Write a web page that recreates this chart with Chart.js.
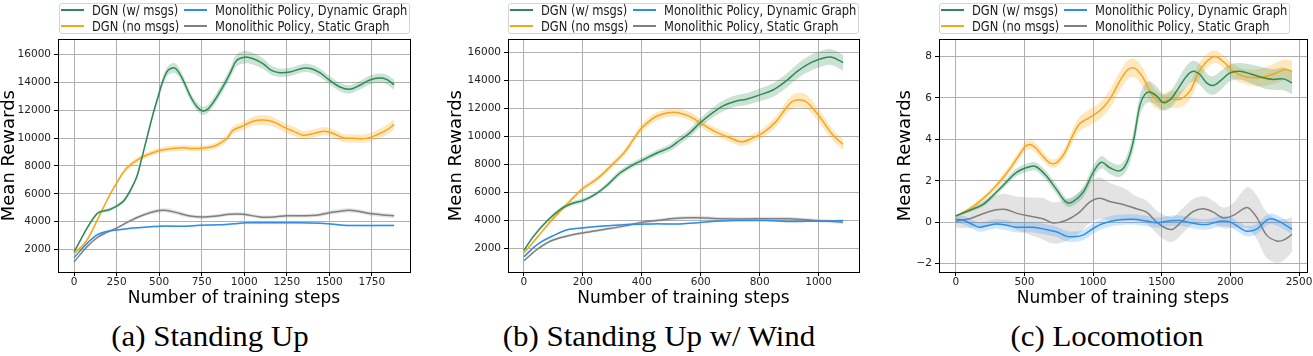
<!DOCTYPE html>
<html>
<head>
<title>DGN rewards</title>
<script src="https://cdn.jsdelivr.net/npm/chart.js"></script>
<style>
  body {
    margin: 0;
    width: 1313px;
    height: 356px;
    background: #fff;
    position: relative;
    overflow: hidden;
    font-family: 'DejaVu Sans', sans-serif;
  }
  .panel { position: absolute; top: 30px; height: 282px; }
  .legend {
    position: absolute;
    top: 3px;
    width: 349px;
    height: 29px;
    border: 1px solid #d4d4d4;
    border-radius: 3px;
    background: #fff;
  }
  .legend .sw { position: absolute; width: 23px; height: 2px; }
  .legend .lbl {
    position: absolute;
    font-size: 14px;
    line-height: 14px;
    transform: scaleX(0.82);
    transform-origin: left center;
    white-space: nowrap;
    color: #1a1a1a;
  }
  .caption {
    position: absolute;
    top: 321px;
    width: 400px;
    text-align: center;
    font-family: 'Liberation Serif', serif;
    font-size: 30px;
    line-height: 30px;
    color: #000;
    transform: scaleX(1.03);
    white-space: nowrap;
  }
</style>
</head>
<body>
<div class="panel" id="pa" style="left:0px;width:420px"><canvas id="ca"></canvas></div>
<div class="panel" id="pb" style="left:445px;width:424px"><canvas id="cb"></canvas></div>
<div class="panel" id="pc" style="left:894px;width:419px"><canvas id="cc"></canvas></div>

<script>
// series names and colours
const seriesNames = ['DGN (w/ msgs)', 'DGN (no msgs)', 'Monolithic Policy, Dynamic Graph', 'Monolithic Policy, Static Graph'];
const lineColors = ['#2e8b57', '#f7a61c', '#2f8ee8', '#808080'];
const fillColors = ['rgba(46,139,87,0.25)', 'rgba(255,165,0,0.25)', 'rgba(30,144,255,0.22)', 'rgba(128,128,128,0.22)'];

// [step, mean reward, half band width]

// (a) Standing Up
const standGreen = [[0,1850,60],[133,4550,120],[211,4880,120],[250,5120,120],[290,5470,150],[329,6200,170],[368,7200,180],[397,8500,200],[427,9950,200],[466,11800,230],[495,13000,260],[520,14020,300],[553,14860,330],[593,15020,350],[632,14380,330],[681,13070,300],[720,12290,300],[759,11950,300],[798,12240,300],[857,13310,330],[916,14620,380],[955,15570,420],[1004,15810,450],[1053,15690,420],[1112,15330,380],[1160,14860,330],[1209,14690,300],[1268,14740,300],[1346,15020,300],[1395,14980,300],[1444,14690,300],[1503,14140,300],[1562,13670,300],[1620,13500,300],[1679,13790,300],[1738,14170,320],[1796,14310,330],[1836,14210,340],[1881,13830,380]];
const standOrange = [[0,1700,60],[74,2640,80],[153,4530,100],[211,5950,120],[250,6770,150],[309,7830,180],[387,8540,200],[466,8970,200],[544,9200,200],[642,9300,200],[700,9250,200],[779,9300,200],[837,9490,220],[896,9950,250],[935,10570,280],[994,10880,300],[1053,11210,330],[1112,11290,350],[1170,11170,350],[1229,10810,330],[1288,10500,330],[1346,10210,300],[1405,10330,300],[1474,10500,300],[1523,10330,300],[1581,10020,300],[1640,9980,300],[1718,9980,300],[1777,10220,320],[1836,10570,350],[1881,10980,400]];
const standBlue = [[0,1420,50],[74,2410,60],[133,3040,60],[192,3300,60],[250,3400,60],[348,3540,60],[446,3630,60],[505,3680,60],[662,3680,60],[740,3750,60],[857,3780,60],[935,3850,60],[1014,3920,60],[1327,3920,60],[1444,3890,60],[1523,3820,60],[1601,3730,60],[1881,3730,60]];
const standGray = [[0,1110,60],[74,2170,80],[133,2830,100],[192,3230,100],[250,3540,100],[329,4060,120],[407,4480,130],[485,4770,150],[544,4810,150],[603,4650,150],[681,4410,130],[759,4340,130],[837,4410,130],[916,4530,130],[994,4530,130],[1092,4340,130],[1170,4340,130],[1249,4430,130],[1327,4430,130],[1425,4460,130],[1503,4650,150],[1601,4810,150],[1659,4770,150],[1738,4580,150],[1816,4480,150],[1881,4430,150]];

// (b) Standing Up w/ Wind
const windGreen = [[0,1880,60],[35,2940,100],[80,4000,120],[125,4820,150],[159,5180,150],[204,5460,150],[243,5880,150],[282,6520,180],[327,7410,200],[372,8000,200],[406,8350,200],[451,8820,220],[496,9220,250],[530,9750,280],[563,10260,300],[597,10960,320],[631,11550,350],[676,12190,380],[721,12540,400],[755,12660,420],[800,12970,450],[845,13320,480],[889,13950,500],[923,14570,520],[957,15080,550],[1002,15510,560],[1042,15670,560],[1083,15270,550]];
const windOrange = [[0,1690,60],[46,2820,100],[91,3950,120],[136,4940,150],[170,5690,150],[204,6350,180],[249,6990,180],[294,7880,200],[339,8820,220],[367,9650,250],[395,10500,280],[440,11320,300],[485,11670,300],[519,11720,300],[563,11440,300],[608,10850,300],[653,10310,300],[698,9910,300],[740,9620,300],[777,9900,300],[811,10260,330],[856,11080,380],[889,12020,450],[917,12560,500],[957,12490,500],[1002,11440,450],[1047,10140,400],[1083,9440,380]];
const windBlue = [[0,1410,50],[46,2300,60],[102,2940,60],[147,3340,60],[204,3480,60],[282,3620,60],[350,3720,60],[440,3760,60],[530,3760,60],[597,3860,60],[653,3950,60],[732,4000,60],[822,4000,60],[901,3930,60],[980,3950,60],[1083,4000,60]];
const windGray = [[0,1130,60],[46,1950,80],[91,2540,100],[147,2890,100],[204,3130,100],[271,3360,100],[339,3600,100],[395,3850,120],[451,4000,120],[507,4140,130],[563,4200,130],[620,4180,130],[676,4120,130],[788,4120,130],[901,4120,130],[991,4000,130],[1083,3880,130]];

// (c) Locomotion
const locoGreen = [[0,0.30,0.05],[100,0.57,0.08],[197,0.85,0.1],[246,1.13,0.12],[343,1.76,0.15],[440,2.40,0.18],[538,2.68,0.2],[586,2.68,0.2],[659,2.24,0.22],[732,1.60,0.22],[805,0.97,0.2],[854,1.00,0.2],[927,1.44,0.25],[1000,2.40,0.3],[1061,2.90,0.3],[1122,2.63,0.3],[1194,2.48,0.3],[1243,2.84,0.35],[1292,3.87,0.45],[1340,5.62,0.5],[1377,6.17,0.5],[1413,6.29,0.5],[1462,6.10,0.45],[1511,5.78,0.4],[1559,5.90,0.4],[1608,6.33,0.45],[1681,7.05,0.5],[1729,7.29,0.5],[1778,7.13,0.5],[1827,6.73,0.45],[1875,6.60,0.45],[1924,6.81,0.45],[1997,7.21,0.4],[2070,7.29,0.4],[2143,7.17,0.45],[2240,6.97,0.5],[2313,6.89,0.5],[2386,6.92,0.55],[2449,6.73,0.55]];
const locoOrange = [[0,0.30,0.05],[100,0.65,0.1],[197,1.13,0.12],[294,1.76,0.15],[392,2.56,0.18],[465,3.27,0.2],[513,3.70,0.22],[562,3.70,0.22],[635,3.19,0.22],[684,2.87,0.2],[732,2.87,0.2],[793,3.35,0.25],[842,4.05,0.3],[902,4.75,0.35],[975,5.06,0.4],[1049,5.38,0.4],[1122,5.94,0.45],[1194,6.81,0.45],[1255,7.37,0.45],[1304,7.44,0.45],[1365,6.97,0.45],[1426,6.17,0.45],[1486,5.81,0.4],[1559,5.94,0.4],[1632,5.94,0.4],[1705,6.33,0.4],[1766,7.21,0.4],[1827,7.76,0.35],[1887,8.00,0.3],[1948,7.76,0.3],[2021,7.29,0.35],[2094,7.05,0.35],[2191,6.97,0.4],[2264,7.05,0.45],[2337,7.21,0.5],[2398,7.37,0.5],[2449,7.29,0.5]];
const locoBlue = [[0,0.14,0.2],[51,0.11,0.2],[124,-0.11,0.22],[173,-0.24,0.22],[246,-0.14,0.22],[294,-0.08,0.22],[367,-0.14,0.25],[440,-0.24,0.25],[562,-0.24,0.25],[659,-0.35,0.25],[732,-0.46,0.25],[805,-0.67,0.25],[854,-0.70,0.25],[927,-0.62,0.25],[1000,-0.30,0.25],[1073,-0.06,0.25],[1170,0.10,0.25],[1292,0.14,0.25],[1389,0.06,0.25],[1462,-0.02,0.25],[1559,0.06,0.25],[1632,0.08,0.25],[1729,-0.05,0.25],[1827,-0.11,0.25],[1924,0.05,0.25],[1997,0.02,0.25],[2070,-0.27,0.25],[2118,-0.43,0.25],[2191,-0.33,0.25],[2264,0.10,0.25],[2301,0.17,0.25],[2362,0.02,0.25],[2449,-0.33,0.25]];
const locoGray = [[0,0.05,0.3],[100,0.17,0.45],[197,0.41,0.6],[294,0.60,0.7],[367,0.62,0.75],[440,0.44,0.8],[538,0.30,0.9],[635,0.17,1.0],[708,-0.03,1.0],[805,0.10,1.0],[902,0.49,1.0],[975,0.97,1.0],[1049,1.16,1.0],[1122,1.00,0.9],[1219,0.86,0.8],[1316,0.65,0.6],[1389,0.49,0.55],[1462,0.02,0.55],[1535,-0.30,0.6],[1583,-0.33,0.6],[1656,0.10,0.6],[1729,0.52,0.6],[1802,0.65,0.6],[1875,0.49,0.55],[1948,0.21,0.5],[2021,0.33,0.6],[2094,0.65,0.9],[2131,0.70,1.0],[2191,0.25,1.05],[2264,-0.62,1.1],[2337,-0.90,1.05],[2386,-0.86,1.0],[2449,-0.59,0.85]];

// tick labels
const standXTicks = [0, 250, 500, 750, 1000, 1250, 1500, 1750];
const windXTicks = [0, 200, 400, 600, 800, 1000];
const locoXTicks = [0, 500, 1000, 1500, 2000, 2500];
const rewardTicks = [2000, 4000, 6000, 8000, 10000, 12000, 14000, 16000];
const locoYTicks = [-2, 0, 2, 4, 6, 8];

const captions = ['(a) Standing Up', '(b) Standing Up w/ Wind', '(c) Locomotion'];

Chart.defaults.font.family = "'DejaVu Sans', sans-serif";

// black box around the plotting area
const frame = {
  id: 'frame',
  afterDatasetsDraw(chart) {
    const { ctx, chartArea: a } = chart;
    ctx.save();
    ctx.strokeStyle = '#000';
    ctx.lineWidth = 1;
    ctx.strokeRect(Math.round(a.left) + 0.5, Math.round(a.top) + 0.5, Math.round(a.width), Math.round(a.height));
    ctx.restore();
  }
};

function fmt(v) {
  return v < 0 ? '\u2212' + Math.abs(v) : String(v);
}

function makePanel(canvasId, series, cfg) {
  const lines = [];
  const bands = [];
  series.forEach((rows, i) => {
    lines.push({
      label: seriesNames[i],
      data: rows.map(r => ({ x: r[0], y: r[1] })),
      borderColor: lineColors[i],
      borderWidth: 1.5,
      pointRadius: 0,
      fill: false,
      tension: 0.35
    });
    bands.push({
      data: rows.map(r => ({ x: r[0], y: r[1] - r[2] })),
      borderColor: 'transparent',
      borderWidth: 0,
      pointRadius: 0,
      fill: false,
      tension: 0.35
    });
    bands.push({
      data: rows.map(r => ({ x: r[0], y: r[1] + r[2] })),
      borderColor: 'transparent',
      backgroundColor: fillColors[i],
      borderWidth: 0,
      pointRadius: 0,
      fill: '-1',
      tension: 0.35
    });
  });

  new Chart(document.getElementById(canvasId), {
    type: 'line',
    data: { datasets: lines.concat(bands) },
    plugins: [frame],
    options: {
      responsive: true,
      maintainAspectRatio: false,
      animation: false,
      layout: { padding: { top: 7, right: cfg.padRight, left: 0, bottom: 0 } },
      plugins: { legend: { display: false }, tooltip: { enabled: false } },
      scales: {
        x: {
          type: 'linear',
          min: cfg.xMin,
          max: cfg.xMax,
          afterBuildTicks: ax => { ax.ticks = cfg.xTicks.map(v => ({ value: v })); },
          afterFit: ax => { ax.height = 40; },
          border: { display: false },
          grid: { color: '#b0b0b0', lineWidth: 1, tickColor: '#000', tickLength: 4 },
          ticks: { font: { size: 10.5 }, color: '#222', padding: 0, maxRotation: 0, autoSkip: false, callback: fmt },
          title: { display: true, text: 'Number of training steps', font: { size: 17 }, color: '#000', padding: { top: 0, bottom: 3 } }
        },
        y: {
          min: cfg.yMin,
          max: cfg.yMax,
          afterBuildTicks: ax => { ax.ticks = cfg.yTicks.map(v => ({ value: v })); },
          afterFit: ax => { ax.width = cfg.yWidth; },
          border: { display: false },
          grid: { color: '#b0b0b0', lineWidth: 1, tickColor: '#000', tickLength: 4 },
          ticks: { font: { size: 10.5 }, color: '#222', padding: 3, autoSkip: false, callback: fmt },
          title: { display: true, text: 'Mean Rewards', font: { size: 18, lineHeight: 1 }, color: '#000', padding: { top: cfg.titlePad, bottom: 0 } }
        }
      }
    }
  });
}

makePanel('ca', [standGreen, standOrange, standBlue, standGray],
  { xMin: -94, xMax: 1974, xTicks: standXTicks, yMin: 390, yMax: 17090, yTicks: rewardTicks, yWidth: 58, padRight: 10, titlePad: 0 });
makePanel('cb', [windGreen, windOrange, windBlue, windGray],
  { xMin: -54, xMax: 1137, xTicks: windXTicks, yMin: 324, yMax: 16940, yTicks: rewardTicks, yWidth: 63, padRight: 10, titlePad: 2 });
makePanel('cc', [locoGreen, locoOrange, locoBlue, locoGray],
  { xMin: -122, xMax: 2558, xTicks: locoXTicks, yMin: -2.40, yMax: 8.83, yTicks: locoYTicks, yWidth: 45, padRight: 6, titlePad: 2 });

// legends above each panel
const legendLefts = [59, 508, 939];
const legendSlots = [[1, 6], [1, 21.5], [124, 6], [124, 21.5]]; // swatch x, row centre y inside the box
legendLefts.forEach(left => {
  const box = document.createElement('div');
  box.className = 'legend';
  box.style.left = left + 'px';
  seriesNames.forEach((name, i) => {
    const [sx, cy] = legendSlots[i];
    const sw = document.createElement('div');
    sw.className = 'sw';
    sw.style.left = sx + 'px';
    sw.style.top = (cy - 1) + 'px';
    sw.style.background = lineColors[i];
    box.appendChild(sw);
    const lbl = document.createElement('div');
    lbl.className = 'lbl';
    lbl.style.left = (sx + 31) + 'px';
    lbl.style.top = (cy - 6.7) + 'px';
    lbl.textContent = name;
    box.appendChild(lbl);
  });
  document.body.appendChild(box);
});

// captions under each panel
const captionCenters = [210, 659, 1107];
captions.forEach((text, i) => {
  const c = document.createElement('div');
  c.className = 'caption';
  c.style.left = (captionCenters[i] - 200) + 'px';
  c.textContent = text;
  document.body.appendChild(c);
});
</script>
</body>
</html>
